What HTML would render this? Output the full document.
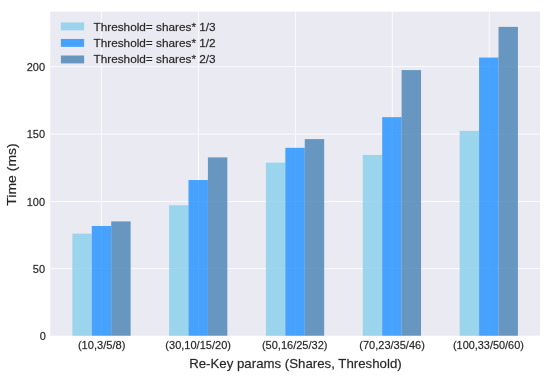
<!DOCTYPE html><html><head><meta charset="utf-8"><title>chart</title>
<style>html,body{margin:0;padding:0;background:#fff}svg{display:block}text{font-family:"Liberation Sans",Arial,sans-serif;fill:#262626;stroke:#262626;stroke-width:0.3px;stroke-opacity:0.6}</style></head><body>
<svg width="550" height="377" viewBox="0 0 550 377">
<rect width="550" height="377" fill="#ffffff"/>
<rect x="50.2" y="11.7" width="489.80" height="324.05" fill="#eaeaf2"/>
<line x1="101.4" x2="101.4" y1="11.7" y2="335.75" stroke="#fff" stroke-opacity="0.85" stroke-width="0.95"/>
<line x1="198.5" x2="198.5" y1="11.7" y2="335.75" stroke="#fff" stroke-opacity="0.85" stroke-width="0.95"/>
<line x1="295.4" x2="295.4" y1="11.7" y2="335.75" stroke="#fff" stroke-opacity="0.85" stroke-width="0.95"/>
<line x1="392.3" x2="392.3" y1="11.7" y2="335.75" stroke="#fff" stroke-opacity="0.85" stroke-width="0.95"/>
<line x1="489.2" x2="489.2" y1="11.7" y2="335.75" stroke="#fff" stroke-opacity="0.85" stroke-width="0.95"/>
<text x="45.9" y="340.45" font-size="11" text-anchor="end">0</text>
<line x1="50.2" x2="540.0" y1="268.60" y2="268.60" stroke="#fff" stroke-opacity="0.85" stroke-width="0.95"/>
<text x="45.1" y="272.85" font-size="11" text-anchor="end">50</text>
<line x1="50.2" x2="540.0" y1="201.50" y2="201.50" stroke="#fff" stroke-opacity="0.85" stroke-width="0.95"/>
<text x="45.1" y="205.65" font-size="11" text-anchor="end">100</text>
<line x1="50.2" x2="540.0" y1="134.10" y2="134.10" stroke="#fff" stroke-opacity="0.85" stroke-width="0.95"/>
<text x="45.1" y="138.05" font-size="11" text-anchor="end">150</text>
<line x1="50.2" x2="540.0" y1="66.70" y2="66.70" stroke="#fff" stroke-opacity="0.85" stroke-width="0.95"/>
<text x="45.1" y="70.65" font-size="11" text-anchor="end">200</text>
<rect x="72.37" y="233.65" width="19.42" height="102.10" fill="rgba(135,206,235,0.8)"/>
<rect x="91.79" y="225.98" width="19.42" height="109.77" fill="rgba(30,144,255,0.8)"/>
<rect x="111.21" y="221.41" width="19.42" height="114.34" fill="rgba(70,130,180,0.8)"/>
<text transform="translate(101.7,349.45) scale(0.995,1)" font-size="11.2" text-anchor="middle">(10,3/5/8)</text>
<rect x="169.07" y="205.27" width="19.42" height="130.48" fill="rgba(135,206,235,0.8)"/>
<rect x="188.49" y="180.04" width="19.42" height="155.71" fill="rgba(30,144,255,0.8)"/>
<rect x="207.91" y="157.38" width="19.42" height="178.37" fill="rgba(70,130,180,0.8)"/>
<text transform="translate(198.15,349.45) scale(0.985,1)" font-size="11.2" text-anchor="middle">(30,10/15/20)</text>
<rect x="265.92" y="162.62" width="19.42" height="173.13" fill="rgba(135,206,235,0.8)"/>
<rect x="285.34" y="147.83" width="19.42" height="187.92" fill="rgba(30,144,255,0.8)"/>
<rect x="304.76" y="139.08" width="19.42" height="196.67" fill="rgba(70,130,180,0.8)"/>
<text transform="translate(294.7,349.45) scale(0.985,1)" font-size="11.2" text-anchor="middle">(50,16/25/32)</text>
<rect x="362.77" y="154.96" width="19.42" height="180.79" fill="rgba(135,206,235,0.8)"/>
<rect x="382.19" y="117.16" width="19.42" height="218.59" fill="rgba(30,144,255,0.8)"/>
<rect x="401.61" y="70.07" width="19.42" height="265.68" fill="rgba(70,130,180,0.8)"/>
<text transform="translate(392.05,349.45) scale(0.985,1)" font-size="11.2" text-anchor="middle">(70,23/35/46)</text>
<rect x="459.67" y="130.88" width="19.42" height="204.87" fill="rgba(135,206,235,0.8)"/>
<rect x="479.09" y="57.56" width="19.42" height="278.19" fill="rgba(30,144,255,0.8)"/>
<rect x="498.51" y="26.89" width="19.42" height="308.86" fill="rgba(70,130,180,0.8)"/>
<text transform="translate(488.4,349.45) scale(0.975,1)" font-size="11.2" text-anchor="middle">(100,33/50/60)</text>
<rect x="60.9" y="22.40" width="23.2" height="7.9" fill="rgba(135,206,235,0.8)"/>
<text transform="translate(93.45,30.7) scale(1.026,1)" font-size="11.5">Threshold= shares* 1/3</text>
<rect x="60.9" y="38.95" width="23.2" height="7.9" fill="rgba(30,144,255,0.8)"/>
<text transform="translate(93.45,47.0) scale(1.026,1)" font-size="11.5">Threshold= shares* 1/2</text>
<rect x="60.9" y="55.50" width="23.2" height="7.9" fill="rgba(70,130,180,0.8)"/>
<text transform="translate(93.45,63.15) scale(1.026,1)" font-size="11.5">Threshold= shares* 2/3</text>
<text transform="translate(295.4,368.4) scale(1.004,1)" font-size="13.2" text-anchor="middle">Re-Key params (Shares, Threshold)</text>
<text transform="translate(16.0,174.5) rotate(-90) scale(1.06,1)" font-size="13.2" text-anchor="middle">Time (ms)</text>
</svg></body></html>
